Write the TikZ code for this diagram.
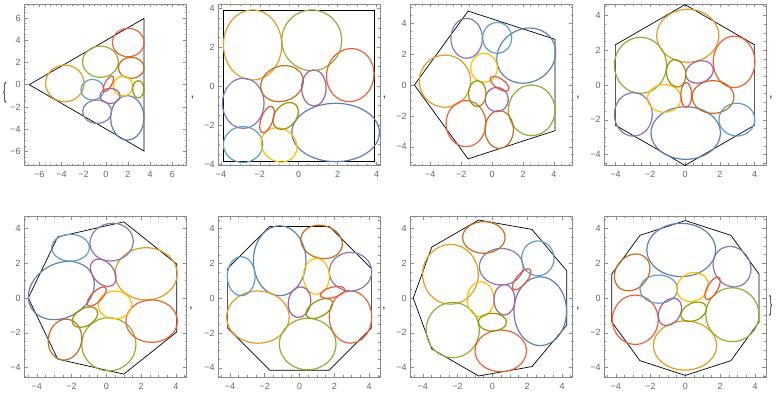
\documentclass[tikz,border=0pt]{standalone}
\usepackage{fontspec}
\setmainfont{Liberation Sans}
\definecolor{eblue}{rgb}{0.368,0.507,0.710}
\definecolor{eorange}{rgb}{0.881,0.611,0.142}
\definecolor{egreen}{rgb}{0.560,0.692,0.195}
\definecolor{ered}{rgb}{0.923,0.386,0.209}
\definecolor{epurple}{rgb}{0.528,0.471,0.701}
\definecolor{ebrown}{rgb}{0.772,0.432,0.102}
\definecolor{eltblue}{rgb}{0.364,0.619,0.782}
\definecolor{eyellow}{rgb}{1,0.75,0}
\definecolor{emagenta}{rgb}{0.648,0.378,0.614}
\definecolor{eolive}{rgb}{0.572,0.586,0}
\definecolor{ered2}{rgb}{0.915,0.333,0.213}
\tikzset{
  frm/.style={draw=black!45,line width=0.7pt},
  tk/.style={draw=black!45,line width=0.5pt},
  lbx/.style={anchor=north,inner sep=6pt,text=black!60,font=\fontsize{9}{10}\selectfont},
  lby/.style={anchor=east,inner sep=3.5pt,text=black!60,font=\fontsize{9}{10}\selectfont},
  poly/.style={draw=black,line width=0.7pt},
  ell/.style={line width=1.2pt},
  punct/.style={inner sep=0pt,text=black!80,font=\fontsize{13}{13}\selectfont}
}
\begin{document}
\begin{tikzpicture}[x=1pt,y=1pt]
\useasboundingbox (0,0) rectangle (776,397);

\node[punct,anchor=center] (lbrace) at (4.7,304.5) {\scalebox{0.45}[1]{\fontsize{22}{22}\selectfont\{}};
\node[punct,anchor=base] (c1) at (192.5,299) {,};
\node[punct,anchor=base] (c2) at (384.5,299) {,};
\node[punct,anchor=base] (c3) at (578,299) {,};
\node[punct,anchor=base] (c4) at (771,299) {,};
\node[punct,anchor=base] (c5) at (191,89) {,};
\node[punct,anchor=base] (c6) at (384,89) {,};
\node[punct,anchor=base] (c7) at (578,89) {,};
\node[punct,anchor=center] (rbrace) at (770.8,91.5) {\scalebox{0.45}[1]{\fontsize{22}{22}\selectfont\}}};

% triangle
\begin{scope}[shift={(105.8,312.3)},scale=11.1]
\draw[frm] (-7.34,-7.26) rectangle (7.29,7.27);
\foreach \v in {-7,-6.5,...,7} {
  \draw[tk] (\v,-7.26) -- ++(0,0.15);
  \draw[tk] (\v,7.27) -- ++(0,-0.15);
  \draw[tk] (-7.34,\v) -- ++(0.15,0);
  \draw[tk] (7.29,\v) -- ++(-0.15,0);
}
\foreach \v/\t [count=\i] in {-6/−6,-4/−4,-2/−2,0/0,2/2,4/4,6/6} {
  \draw[tk] (\v,-7.26) -- ++(0,0.3);
  \draw[tk] (\v,7.27) -- ++(0,-0.3);
  \draw[tk] (-7.34,\v) -- ++(0.3,0);
  \draw[tk] (7.29,\v) -- ++(-0.3,0);
  \node[lbx] (p1x\i) at (\v,-7.26) {\t};
  \node[lby] (p1y\i) at (-7.34,\v) {\t};
}
\draw[poly] (-6.9,0) -- (3.45,5.976) -- (3.45,-5.976) -- cycle;
\draw[ell,eblue] (1.94,-2.99) ellipse (1.5 and 2.0);
\draw[ell,eorange] (-3.69,0.12) ellipse (1.73 and 1.65);
\draw[ell,egreen] (-0.48,2.07) ellipse (1.61 and 1.41);
\draw[ell,ered] (2.02,3.8) ellipse (1.43 and 1.28);
\draw[ell,epurple] (-0.78,-2.43) ellipse (1.31 and 1.05);
\draw[ell,ebrown] (2.29,1.52) ellipse (1.16 and 0.95);
\draw[ell,eltblue] (-1.2,-0.45) ellipse (1.04 and 0.93);
\draw[ell,eyellow] (1.55,-0.12) ellipse (0.87 and 0.9);
\draw[ell,emagenta] (0.38,-1.01) ellipse (0.9 and 0.68);
\draw[ell,eolive] (2.93,-0.41) ellipse (0.51 and 0.77);
\draw[ell,ered2,rotate around={60:(0.23,0.08)}] (0.23,0.08) ellipse (0.8 and 0.3);
\end{scope}

% square
\begin{scope}[shift={(298.7,310.8)},scale=19.45]
\draw[frm] (-4.13,-4.07) rectangle (4.18,4.23);
\foreach \v in {-4,-3.5,...,4} {
  \draw[tk] (\v,-4.07) -- ++(0,0.09);
  \draw[tk] (\v,4.23) -- ++(0,-0.09);
  \draw[tk] (-4.13,\v) -- ++(0.09,0);
  \draw[tk] (4.18,\v) -- ++(-0.09,0);
}
\foreach \v/\t [count=\i] in {-4/−4,-2/−2,0/0,2/2,4/4} {
  \draw[tk] (\v,-4.07) -- ++(0,0.18);
  \draw[tk] (\v,4.23) -- ++(0,-0.18);
  \draw[tk] (-4.13,\v) -- ++(0.18,0);
  \draw[tk] (4.18,\v) -- ++(-0.18,0);
  \node[lbx] (p2x\i) at (\v,-4.07) {\t};
  \node[lby] (p2y\i) at (-4.13,\v) {\t};
}
\draw[poly] (-3.88,-3.88) rectangle (3.88,3.88);
\draw[ell,eblue] (1.9,-2.38) ellipse (2.25 and 1.5);
\draw[ell,eorange] (-2.37,2.12) ellipse (1.5 and 1.8);
\draw[ell,egreen] (0.67,2.36) ellipse (1.54 and 1.56);
\draw[ell,ered,rotate around={-10:(2.65,0.57)}] (2.65,0.57) ellipse (1.22 and 1.37);
\draw[ell,epurple] (-2.85,-0.88) ellipse (1.07 and 1.29);
\draw[ell,ebrown,rotate around={20:(-0.86,0.13)}] (-0.86,0.13) ellipse (1.12 and 0.9);
\draw[ell,eltblue] (-2.86,-3.0) ellipse (1.01 and 0.92);
\draw[ell,eyellow,rotate around={-35:(-1.01,-3.02)}] (-1.01,-3.02) ellipse (0.96 and 0.84);
\draw[ell,emagenta] (0.78,-0.09) ellipse (0.63 and 0.93);
\draw[ell,eolive,rotate around={50:(-0.67,-1.53)}] (-0.67,-1.53) ellipse (0.78 and 0.55);
\draw[ell,ered2,rotate around={70:(-1.63,-1.71)}] (-1.63,-1.71) ellipse (0.72 and 0.3);
\end{scope}

% pentagon
\begin{scope}[shift={(492.1,312)},scale=15.45]
\draw[frm] (-5.29,-5.2) rectangle (5.22,5.24);
\foreach \v in {-5,-4.5,...,5} {
  \draw[tk] (\v,-5.2) -- ++(0,0.11);
  \draw[tk] (\v,5.24) -- ++(0,-0.11);
  \draw[tk] (-5.29,\v) -- ++(0.11,0);
  \draw[tk] (5.22,\v) -- ++(-0.11,0);
}
\foreach \v/\t [count=\i] in {-4/−4,-2/−2,0/0,2/2,4/4} {
  \draw[tk] (\v,-5.2) -- ++(0,0.22);
  \draw[tk] (\v,5.24) -- ++(0,-0.22);
  \draw[tk] (-5.29,\v) -- ++(0.22,0);
  \draw[tk] (5.22,\v) -- ++(-0.22,0);
  \node[lbx] (p3x\i) at (\v,-5.2) {\t};
  \node[lby] (p3y\i) at (-5.29,\v) {\t};
}
\draw[poly] (180:5.03) -- (108:5.03) -- (36:5.03) -- (-36:5.03) -- (-108:5.03) -- cycle;
\draw[ell,eblue,rotate around={30:(2.21,1.9)}] (2.21,1.9) ellipse (1.97 and 1.72);
\draw[ell,eorange] (-3.05,0.25) ellipse (1.66 and 1.69);
\draw[ell,egreen] (2.56,-1.64) ellipse (1.51 and 1.64);
\draw[ell,ered] (-1.69,-2.5) ellipse (1.29 and 1.49);
\draw[ell,epurple] (-1.65,3.02) ellipse (1.02 and 1.29);
\draw[ell,ebrown] (0.46,-2.88) ellipse (0.92 and 1.22);
\draw[ell,eltblue] (0.33,3.05) ellipse (0.94 and 1.0);
\draw[ell,eyellow] (-0.52,1.11) ellipse (0.86 and 0.94);
\draw[ell,emagenta] (0.3,-0.94) ellipse (0.75 and 0.79);
\draw[ell,eolive] (-0.96,-0.56) ellipse (0.57 and 0.84);
\draw[ell,ered2,rotate around={-35:(0.49,0.08)}] (0.49,0.08) ellipse (0.7 and 0.32);
\end{scope}

% hexagon
\begin{scope}[shift={(685,312)},scale=17.4]
\draw[frm] (-4.64,-4.61) rectangle (4.66,4.66);
\foreach \v in {-4.5,-4,...,4.5} {
  \draw[tk] (\v,-4.61) -- ++(0,0.1);
  \draw[tk] (\v,4.66) -- ++(0,-0.1);
  \draw[tk] (-4.64,\v) -- ++(0.1,0);
  \draw[tk] (4.66,\v) -- ++(-0.1,0);
}
\foreach \v/\t [count=\i] in {-4/−4,-2/−2,0/0,2/2,4/4} {
  \draw[tk] (\v,-4.61) -- ++(0,0.2);
  \draw[tk] (\v,4.66) -- ++(0,-0.2);
  \draw[tk] (-4.64,\v) -- ++(0.2,0);
  \draw[tk] (4.66,\v) -- ++(-0.2,0);
  \node[lbx] (p4x\i) at (\v,-4.61) {\t};
  \node[lby] (p4y\i) at (-4.64,\v) {\t};
}
\draw[poly] (90:4.62) -- (150:4.62) -- (210:4.62) -- (270:4.62) -- (330:4.62) -- (30:4.62) -- cycle;
\draw[ell,eblue] (0.04,-2.76) ellipse (2.0 and 1.51);
\draw[ell,eorange] (0.16,2.83) ellipse (1.79 and 1.52);
\draw[ell,egreen] (-2.56,1.13) ellipse (1.5 and 1.61);
\draw[ell,ered] (2.82,1.33) ellipse (1.2 and 1.48);
\draw[ell,epurple] (-2.97,-1.69) ellipse (1.09 and 1.25);
\draw[ell,ebrown] (1.61,-0.69) ellipse (1.2 and 0.94);
\draw[ell,eltblue] (2.98,-1.99) ellipse (1.03 and 0.94);
\draw[ell,eyellow] (-1.19,-0.77) ellipse (0.96 and 0.8);
\draw[ell,emagenta,rotate around={20:(0.83,0.75)}] (0.83,0.75) ellipse (0.82 and 0.62);
\draw[ell,eolive,rotate around={10:(-0.51,0.67)}] (-0.51,0.67) ellipse (0.55 and 0.8);
\draw[ell,ered2] (0.07,-0.57) ellipse (0.31 and 0.71);
\end{scope}

% heptagon
\begin{scope}[shift={(106.4,99)},scale=17.4]
\draw[frm] (-4.72,-4.54) rectangle (4.61,4.67);
\foreach \v in {-4.5,-4,...,4.5} {
  \draw[tk] (\v,-4.54) -- ++(0,0.1);
  \draw[tk] (\v,4.67) -- ++(0,-0.1);
  \draw[tk] (-4.72,\v) -- ++(0.1,0);
  \draw[tk] (4.61,\v) -- ++(-0.1,0);
}
\foreach \v/\t [count=\i] in {-4/−4,-2/−2,0/0,2/2,4/4} {
  \draw[tk] (\v,-4.54) -- ++(0,0.2);
  \draw[tk] (\v,4.67) -- ++(0,-0.2);
  \draw[tk] (-4.72,\v) -- ++(0.2,0);
  \draw[tk] (4.61,\v) -- ++(-0.2,0);
  \node[lbx] (p5x\i) at (\v,-4.54) {\t};
  \node[lby] (p5y\i) at (-4.72,\v) {\t};
}
\draw[poly] (180:4.49) -- (128.57:4.49) -- (77.14:4.49) -- (25.71:4.49) -- (-25.71:4.49) -- (-77.14:4.49) -- (-128.57:4.49) -- cycle;
\draw[ell,eblue,rotate around={30:(-2.59,0.43)}] (-2.59,0.43) ellipse (2.0 and 1.55);
\draw[ell,eorange] (2.28,1.39) ellipse (1.79 and 1.5);
\draw[ell,egreen] (0.14,-2.66) ellipse (1.56 and 1.53);
\draw[ell,ered] (2.6,-1.33) ellipse (1.48 and 1.22);
\draw[ell,epurple,rotate around={10:(0.3,3.21)}] (0.3,3.21) ellipse (1.25 and 1.08);
\draw[ell,ebrown,rotate around={-10:(-2.38,-2.39)}] (-2.38,-2.39) ellipse (0.96 and 1.18);
\draw[ell,eltblue] (-2.06,2.89) ellipse (1.08 and 0.77);
\draw[ell,eyellow] (0.49,-0.4) ellipse (0.96 and 0.8);
\draw[ell,emagenta,rotate around={-50:(-0.18,1.45)}] (-0.18,1.45) ellipse (0.9 and 0.6);
\draw[ell,eolive,rotate around={30:(-1.23,-1.1)}] (-1.23,-1.1) ellipse (0.8 and 0.5);
\draw[ell,ered2,rotate around={45:(-0.56,0.08)}] (-0.56,0.08) ellipse (0.72 and 0.3);
\end{scope}

% octagon
\begin{scope}[shift={(299.5,98.7)},scale=17.4]
\draw[frm] (-4.67,-4.52) rectangle (4.63,4.69);
\foreach \v in {-4.5,-4,...,4.5} {
  \draw[tk] (\v,-4.52) -- ++(0,0.1);
  \draw[tk] (\v,4.69) -- ++(0,-0.1);
  \draw[tk] (-4.67,\v) -- ++(0.1,0);
  \draw[tk] (4.63,\v) -- ++(-0.1,0);
}
\foreach \v/\t [count=\i] in {-4/−4,-2/−2,0/0,2/2,4/4} {
  \draw[tk] (\v,-4.52) -- ++(0,0.2);
  \draw[tk] (\v,4.69) -- ++(0,-0.2);
  \draw[tk] (-4.67,\v) -- ++(0.2,0);
  \draw[tk] (4.63,\v) -- ++(-0.2,0);
  \node[lbx] (p6x\i) at (\v,-4.52) {\t};
  \node[lby] (p6y\i) at (-4.67,\v) {\t};
}
\draw[poly] (22.5:4.47) -- (67.5:4.47) -- (112.5:4.47) -- (157.5:4.47) -- (202.5:4.47) -- (247.5:4.47) -- (292.5:4.47) -- (337.5:4.47) -- cycle;
\draw[ell,eblue] (-1.14,2.16) ellipse (1.51 and 2.01);
\draw[ell,eorange] (-2.39,-1.08) ellipse (1.8 and 1.5);
\draw[ell,egreen] (0.47,-2.63) ellipse (1.63 and 1.48);
\draw[ell,ered] (2.93,-1.08) ellipse (1.22 and 1.5);
\draw[ell,epurple] (2.93,1.53) ellipse (1.22 and 1.11);
\draw[ell,ebrown,rotate around={-15:(1.27,3.24)}] (1.27,3.24) ellipse (1.21 and 0.94);
\draw[ell,eltblue] (-3.35,1.27) ellipse (0.8 and 1.12);
\draw[ell,eyellow] (0.97,1.26) ellipse (0.75 and 1.03);
\draw[ell,emagenta,rotate around={-10:(0,-0.22)}] (0,-0.22) ellipse (0.64 and 0.89);
\draw[ell,eolive,rotate around={30:(1.14,-0.59)}] (1.14,-0.59) ellipse (0.85 and 0.45);
\draw[ell,ered2,rotate around={15:(1.9,0.34)}] (1.9,0.34) ellipse (0.72 and 0.3);
\end{scope}

% nonagon
\begin{scope}[shift={(492.4,99)},scale=17.4]
\draw[frm] (-4.72,-4.54) rectangle (4.61,4.67);
\foreach \v in {-4.5,-4,...,4.5} {
  \draw[tk] (\v,-4.54) -- ++(0,0.1);
  \draw[tk] (\v,4.67) -- ++(0,-0.1);
  \draw[tk] (-4.72,\v) -- ++(0.1,0);
  \draw[tk] (4.61,\v) -- ++(-0.1,0);
}
\foreach \v/\t [count=\i] in {-4/−4,-2/−2,0/0,2/2,4/4} {
  \draw[tk] (\v,-4.54) -- ++(0,0.2);
  \draw[tk] (\v,4.67) -- ++(0,-0.2);
  \draw[tk] (-4.72,\v) -- ++(0.2,0);
  \draw[tk] (4.61,\v) -- ++(-0.2,0);
  \node[lbx] (p7x\i) at (\v,-4.54) {\t};
  \node[lby] (p7y\i) at (-4.72,\v) {\t};
}
\draw[poly] (180:4.55) -- (140:4.55) -- (100:4.55) -- (60:4.55) -- (20:4.55) -- (-20:4.55) -- (-60:4.55) -- (-100:4.55) -- (-140:4.55) -- cycle;
\draw[ell,eblue] (2.75,-0.76) ellipse (1.51 and 1.98);
\draw[ell,eorange] (-2.41,1.36) ellipse (1.6 and 1.72);
\draw[ell,egreen] (-2.28,-1.84) ellipse (1.53 and 1.59);
\draw[ell,ered] (0.48,-3.04) ellipse (1.48 and 1.2);
\draw[ell,epurple] (0.51,1.8) ellipse (1.26 and 1.05);
\draw[ell,ebrown] (-0.49,3.48) ellipse (1.22 and 0.91);
\draw[ell,eltblue] (2.61,2.28) ellipse (0.93 and 1.0);
\draw[ell,eyellow] (-0.68,-0.07) ellipse (0.77 and 1.0);
\draw[ell,emagenta] (0.69,-0.1) ellipse (0.6 and 0.88);
\draw[ell,eolive] (0,-1.39) ellipse (0.81 and 0.51);
\draw[ell,ered2,rotate around={50:(1.68,1.07)}] (1.68,1.07) ellipse (0.75 and 0.3);
\end{scope}

% decagon
\begin{scope}[shift={(685.4,99)},scale=17.4]
\draw[frm] (-4.66,-4.54) rectangle (4.63,4.67);
\foreach \v in {-4.5,-4,...,4.5} {
  \draw[tk] (\v,-4.54) -- ++(0,0.1);
  \draw[tk] (\v,4.67) -- ++(0,-0.1);
  \draw[tk] (-4.66,\v) -- ++(0.1,0);
  \draw[tk] (4.63,\v) -- ++(-0.1,0);
}
\foreach \v/\t [count=\i] in {-4/−4,-2/−2,0/0,2/2,4/4} {
  \draw[tk] (\v,-4.54) -- ++(0,0.2);
  \draw[tk] (\v,4.67) -- ++(0,-0.2);
  \draw[tk] (-4.66,\v) -- ++(0.2,0);
  \draw[tk] (4.63,\v) -- ++(-0.2,0);
  \node[lbx] (p8x\i) at (\v,-4.54) {\t};
  \node[lby] (p8y\i) at (-4.66,\v) {\t};
}
\draw[poly] (90:4.45) -- (126:4.45) -- (162:4.45) -- (198:4.45) -- (234:4.45) -- (270:4.45) -- (306:4.45) -- (342:4.45) -- (18:4.45) -- (54:4.45) -- cycle;
\draw[ell,eblue] (-0.24,2.76) ellipse (1.98 and 1.53);
\draw[ell,eorange] (-0.02,-2.73) ellipse (1.82 and 1.41);
\draw[ell,egreen] (2.7,-0.96) ellipse (1.53 and 1.55);
\draw[ell,ered] (-2.88,-1.25) ellipse (1.32 and 1.42);
\draw[ell,epurple,rotate around={-60:(2.68,1.8)}] (2.68,1.8) ellipse (1.2 and 1.05);
\draw[ell,ebrown,rotate around={50:(-3.06,1.47)}] (-3.06,1.47) ellipse (1.15 and 0.92);
\draw[ell,eltblue] (-1.53,0.51) ellipse (1.08 and 0.81);
\draw[ell,eyellow,rotate around={30:(0.41,0.63)}] (0.41,0.63) ellipse (0.93 and 0.8);
\draw[ell,emagenta,rotate around={60:(-0.89,-0.8)}] (-0.89,-0.8) ellipse (0.85 and 0.6);
\draw[ell,eolive,rotate around={25:(0.48,-0.79)}] (0.48,-0.79) ellipse (0.78 and 0.5);
\draw[ell,ered2,rotate around={60:(1.56,0.56)}] (1.56,0.56) ellipse (0.72 and 0.3);
\end{scope}
\end{tikzpicture}
\end{document}
